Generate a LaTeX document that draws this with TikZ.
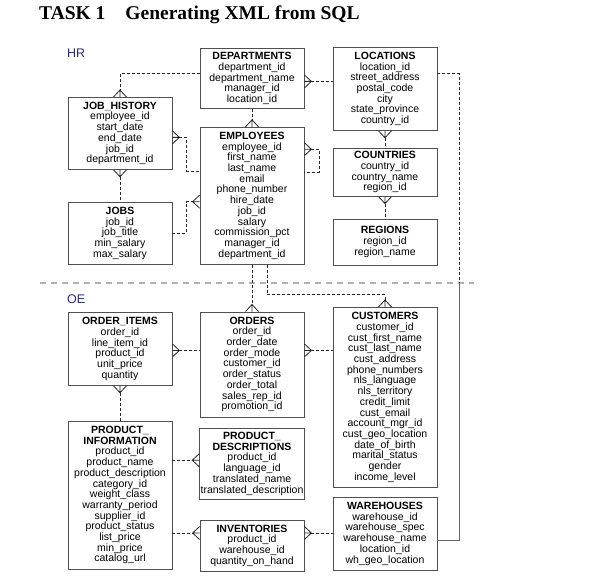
\documentclass[tikz,border=0pt]{standalone}
\usepackage{fontspec}
\setmainfont{Liberation Serif}
\setsansfont{Liberation Sans}
\usepackage{xcolor,tikz}
\usetikzlibrary{arrows.meta,positioning}

\definecolor{schemablue}{RGB}{45,45,110}
\definecolor{boxgray}{RGB}{80,80,80}

% crow's foot: fork opens towards the box
\pgfdeclarearrow{
  name = Crow,
  parameters = {\the\pgfarrowlength,\the\pgfarrowwidth},
  setup code = {
    \pgfarrowssettipend{0pt}
    \pgfarrowssetlineend{-\pgfarrowlength}
    \pgfarrowssetbackend{-\pgfarrowlength}
    \pgfarrowssavethe\pgfarrowlength
    \pgfarrowssavethe\pgfarrowwidth
  },
  drawing code = {
    \pgfsetdash{}{0pt}
    \pgfpathmoveto{\pgfqpoint{0pt}{.5\pgfarrowwidth}}
    \pgfpathlineto{\pgfqpoint{-\pgfarrowlength}{0pt}}
    \pgfpathlineto{\pgfqpoint{0pt}{-.5\pgfarrowwidth}}
    \pgfpathmoveto{\pgfqpoint{-\pgfarrowlength}{0pt}}
    \pgfpathlineto{\pgfqpoint{0pt}{0pt}}
    \pgfusepathqstroke
  },
  defaults = {length = 7pt, width = 13pt}
}

\begin{document}
\begin{tikzpicture}[x=1pt,y=-1pt,
  tbl/.style={draw=boxgray,line width=.8pt,align=center,minimum width=104pt,inner sep=1pt,
    font=\sffamily\fontsize{10.5}{10.7}\selectfont},
  fk/.style={draw=black!85,line width=.8pt,dash pattern=on 3pt off 2pt},
  link/.style={draw=black!60,line width=.8pt},
  sep/.style={draw=black!30,line width=2pt,dash pattern=on 6pt off 5pt},
  schema/.style={anchor=west,inner sep=0pt,text=schemablue,font=\sffamily\fontsize{12.5}{13}\selectfont}]
\useasboundingbox (0,0) rectangle (591,585);
\node[anchor=base west,inner sep=0pt,font=\bfseries\fontsize{19.5}{21}\selectfont] (title) at (39,20) {TASK 1\hspace{20pt}Generating XML from SQL};
\node[schema] (hr) at (67,53) {HR};
\node[schema] (oe) at (67,299) {OE};
\draw[sep] (40,283) -- (474,283);
% HR schema
\node[tbl,minimum height=60pt,anchor=north] (dept) at (252,48) {\textbf{DEPARTMENTS}\\ department\_id\\ department\_name\\ manager\_id\\ location\_id};
\node[tbl,minimum height=83pt,anchor=north] (loc) at (385,47) {\textbf{LOCATIONS}\\ location\_id\\ street\_address\\ postal\_code\\ city\\ state\_province\\ country\_id};
\node[tbl,minimum height=72pt,anchor=north] (jobh) at (120,97) {\textbf{JOB\_HISTORY}\\ employee\_id\\ start\_date\\ end\_date\\ job\_id\\ department\_id};
\node[tbl,minimum height=137pt,below=18pt of dept] (emp) {\textbf{EMPLOYEES}\\ employee\_id\\ first\_name\\ last\_name\\ email\\ phone\_number\\ hire\_date\\ job\_id\\ salary\\ commission\_pct\\ manager\_id\\ department\_id};
\node[tbl,minimum height=48pt,below=17pt of loc] (ctry) {\textbf{COUNTRIES}\\ country\_id\\ country\_name\\ region\_id};
\node[tbl,minimum height=62pt,below=32pt of jobh] (jobs) {\textbf{JOBS}\\ job\_id\\ job\_title\\ min\_salary\\ max\_salary};
\node[tbl,minimum height=46pt,below=22pt of ctry] (reg) {\textbf{REGIONS}\\ region\_id\\ region\_name};
% OE schema
\node[tbl,minimum height=73pt,anchor=north] (oitem) at (120,312) {\textbf{ORDER\_ITEMS}\\ order\_id\\ line\_item\_id\\ product\_id\\ unit\_price\\ quantity};
\node[tbl,minimum height=105pt,anchor=north] (ord) at (252,311.5) {\textbf{ORDERS}\\ order\_id\\ order\_date\\ order\_mode\\ customer\_id\\ order\_status\\ order\_total\\ sales\_rep\_id\\ promotion\_id};
\node[tbl,minimum height=180pt,anchor=north] (cust) at (385,307) {\textbf{CUSTOMERS}\\ customer\_id\\ cust\_first\_name\\ cust\_last\_name\\ cust\_address\\ phone\_numbers\\ nls\_language\\ nls\_territory\\ credit\_limit\\ cust\_email\\ account\_mgr\_id\\ cust\_geo\_location\\ date\_of\_birth\\ marital\_status\\ gender\\ income\_level};
\node[tbl,minimum height=148pt,below=35pt of oitem] (pinfo) {\textbf{PRODUCT\_}\\ \textbf{INFORMATION}\\ product\_id\\ product\_name\\ product\_description\\ category\_id\\ weight\_class\\ warranty\_period\\ supplier\_id\\ product\_status\\ list\_price\\ min\_price\\ catalog\_url};
\node[tbl,minimum height=71pt,below=10.5pt of ord] (pdesc) {\textbf{PRODUCT\_}\\ \textbf{DESCRIPTIONS}\\ product\_id\\ language\_id\\ translated\_name\\ translated\_description};
\node[tbl,minimum height=51pt,below=20pt of pdesc] (inv) {\textbf{INVENTORIES}\\ product\_id\\ warehouse\_id\\ quantity\_on\_hand};
\node[tbl,minimum height=73pt,below=9pt of cust] (wh) {\textbf{WAREHOUSES}\\ warehouse\_id\\ warehouse\_spec\\ warehouse\_name\\ location\_id\\ wh\_geo\_location};
% HR links
\draw[fk,-{Crow}] ([yshift=5pt]dept.west) -| (jobh.north);
\draw[fk,{Crow}-] ([yshift=-3pt]dept.east) -- ([yshift=-3pt]dept.east -| loc.west);
\draw[fk,-{Crow}] (dept.south) -- (emp.north);
\draw[fk,{Crow}-] ([yshift=-4pt]jobh.east) -- ++(14,0) |- ([yshift=24.5pt]emp.west);
\draw[fk,{Crow}-] ([yshift=46.5pt]emp.east) -- ++(15,0) |- ([yshift=23.5pt]emp.east);
\draw[fk,-{Crow}] (jobs.east) -- ++(14,0) |- ([yshift=-6pt]emp.west);
\draw[fk,{Crow}-] (jobh.south) -- (jobs.north);
\draw[fk,{Crow}-] (loc.south) -- (ctry.north);
\draw[fk,{Crow}-] (ctry.south) -- (reg.north);
\coordinate (cut) at (459,283);
\draw[fk] ([yshift=15pt]loc.east) -| (cut);
\draw[link] (cut) |- ([yshift=-6.5pt]wh.east);
% HR to OE
\draw[fk,-{Crow}] (emp.south) -- (ord.north);
\draw[fk,-{Crow}] ([xshift=15pt]emp.south) -- ++(0,30) -| (cust.north);
% OE links
\draw[fk,{Crow}-] ([yshift=-1.5pt]oitem.east) -- ([yshift=-1.5pt]oitem.east -| ord.west);
\draw[fk,{Crow}-] ([yshift=14pt]ord.east) -- ([yshift=14pt]ord.east -| cust.west);
\draw[fk,{Crow}-] (oitem.south) -- (pinfo.north);
\draw[fk,-{Crow}] ([yshift=3.5pt]pdesc.west -| pinfo.east) -- ([yshift=3.5pt]pdesc.west);
\draw[fk,-{Crow}] ([yshift=12.5pt]inv.west -| pinfo.east) -- ([yshift=12.5pt]inv.west);
\draw[fk,{Crow}-] ([yshift=12.5pt]inv.east) -- ([yshift=12.5pt]inv.east -| wh.west);
\end{tikzpicture}
\end{document}
